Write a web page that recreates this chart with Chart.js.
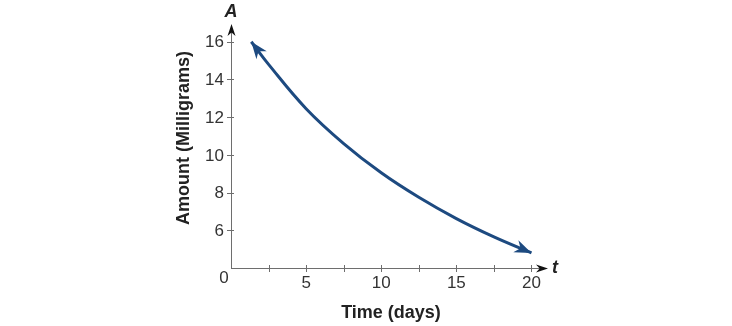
<!DOCTYPE html>
<html>
<head>
<meta charset="utf-8">
<script src="https://cdn.jsdelivr.net/npm/chart.js@4/dist/chart.umd.min.js"></script>
<style>
  html, body { margin: 0; padding: 0; background: #fff; }
  #wrap { width: 732px; height: 326px; }
</style>
</head>
<body>
<div id="wrap"><canvas id="decayChart"></canvas></div>
<script>
// values
var timeDays = [1.35, 2.5, 5, 7.5, 10, 12.5, 15, 17.5, 20];
var amountMg = [16.0, 14.8, 12.45, 10.6, 9.05, 7.75, 6.62, 5.65, 4.8];
var xTickLabels = [5, 10, 15, 20];
var xMinorTicks = [2.5, 7.5, 12.5, 17.5];
var yTickLabels = [6, 8, 10, 12, 14, 16];

var axisColor = '#6e6e6e';
var textColor = '#333';
var curveColor = '#1d4a80';

function arrowHead(ctx, x1, y1, x2, y2, len, half, color) {
    var a = Math.atan2(y2 - y1, x2 - x1);
    ctx.save();
    ctx.fillStyle = color;
    ctx.beginPath();
    ctx.moveTo(x2, y2);
    ctx.lineTo(x2 - len * Math.cos(a) + half * Math.sin(a), y2 - len * Math.sin(a) - half * Math.cos(a));
    ctx.lineTo(x2 - len * 0.7 * Math.cos(a), y2 - len * 0.7 * Math.sin(a));
    ctx.lineTo(x2 - len * Math.cos(a) - half * Math.sin(a), y2 - len * Math.sin(a) + half * Math.cos(a));
    ctx.closePath();
    ctx.fill();
    ctx.restore();
}

var axesPlugin = {
    id: 'axesPlugin',
    beforeDatasetsDraw: function(chart) {
        var ctx = chart.ctx;
        var xs = chart.scales.x, ys = chart.scales.y;
        var ox = xs.getPixelForValue(0), oy = ys.getPixelForValue(4);
        var xEnd = xs.getPixelForValue(xs.max), yEnd = ys.getPixelForValue(ys.max);

        ctx.save();
        ctx.strokeStyle = axisColor;
        ctx.lineWidth = 1;
        ctx.beginPath();
        ctx.moveTo(ox, oy + 0.5); ctx.lineTo(xEnd - 6, oy + 0.5);
        ctx.moveTo(ox + 0.5, oy); ctx.lineTo(ox + 0.5, yEnd + 6);
        ctx.stroke();
        arrowHead(ctx, ox, oy + 0.5, xEnd, oy + 0.5, 12, 4, '#111');
        arrowHead(ctx, ox + 0.5, oy, ox + 0.5, yEnd, 12, 4, '#111');

        // tick marks crossing the axes
        ctx.beginPath();
        xTickLabels.concat(xMinorTicks).forEach(function(v) {
            var px = Math.round(xs.getPixelForValue(v)) + 0.5;
            ctx.moveTo(px, oy - 3); ctx.lineTo(px, oy + 4);
        });
        yTickLabels.forEach(function(v) {
            var py = Math.round(ys.getPixelForValue(v)) + 0.5;
            ctx.moveTo(ox - 4, py); ctx.lineTo(ox + 3, py);
        });
        ctx.stroke();

        ctx.fillStyle = textColor;
        ctx.font = '17px "Liberation Sans", Arial, sans-serif';
        ctx.textAlign = 'center';
        ctx.textBaseline = 'middle';
        xTickLabels.forEach(function(v) {
            ctx.fillText(String(v), xs.getPixelForValue(v), oy + 15);
        });
        ctx.fillText('0', ox - 7, oy + 10);
        ctx.textAlign = 'right';
        yTickLabels.forEach(function(v) {
            ctx.fillText(String(v), ox - 7, ys.getPixelForValue(v) + 1);
        });

        // titles
        ctx.fillStyle = '#222';
        ctx.font = 'bold 18px "Liberation Sans", Arial, sans-serif';
        ctx.textAlign = 'center';
        ctx.fillText('Time (days)', 391, 313);
        ctx.save();
        ctx.translate(184, 138);
        ctx.rotate(-Math.PI / 2);
        ctx.fillText('Amount (Milligrams)', 0, 0);
        ctx.restore();

        ctx.font = 'italic bold 18px "Liberation Sans", Arial, sans-serif';
        ctx.fillText('A', ox, 12);
        ctx.fillText('t', xEnd + 7, oy);
        ctx.restore();
    },
    afterDatasetsDraw: function(chart) {
        var pts = chart.getDatasetMeta(0).data;
        var n = pts.length;
        var ctx = chart.ctx;
        arrowHead(ctx, pts[1].x, pts[1].y, pts[0].x, pts[0].y, 17, 6.5, curveColor);
        arrowHead(ctx, pts[n - 2].x, pts[n - 2].y, pts[n - 1].x, pts[n - 1].y, 17, 6.5, curveColor);
    }
};

var points = timeDays.map(function(t, i) { return { x: t, y: amountMg[i] }; });

new Chart(document.getElementById('decayChart').getContext('2d'), {
    type: 'scatter',
    data: {
        datasets: [{
            data: points,
            showLine: true,
            borderColor: curveColor,
            borderWidth: 3,
            pointRadius: 0,
            tension: 0.4,
            fill: false
        }]
    },
    options: {
        responsive: true,
        maintainAspectRatio: false,
        animation: false,
        layout: { padding: { left: 231, right: 184, top: 24, bottom: 58 } },
        plugins: { legend: { display: false }, tooltip: { enabled: false } },
        scales: {
            x: { type: 'linear', display: false, min: 0, max: 21.1 },
            y: { type: 'linear', display: false, min: 4, max: 16.94 }
        }
    },
    plugins: [axesPlugin]
});
</script>
</body>
</html>
